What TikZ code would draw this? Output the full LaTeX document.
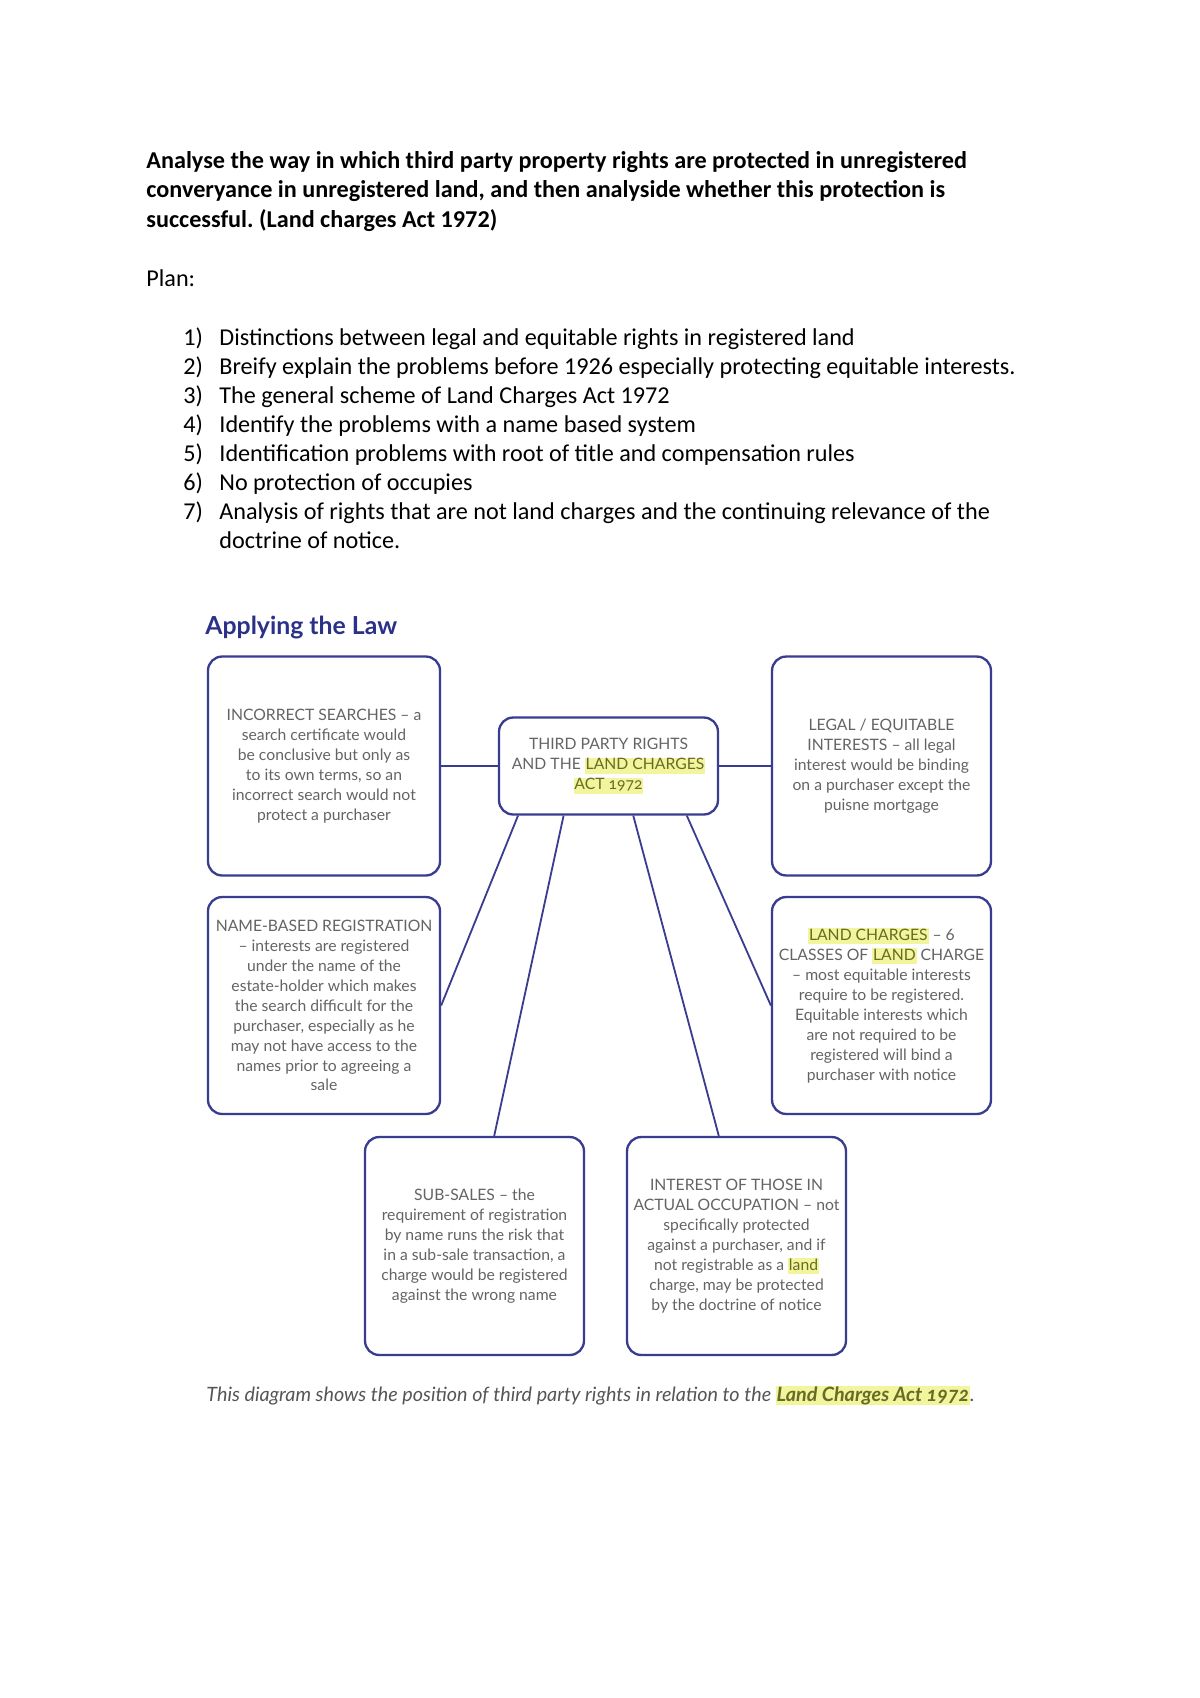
\documentclass[tikz,border=0pt]{standalone}
\usepackage{fontspec}
\setmainfont{Carlito}
\newfontfamily\dgfont{Lato}
\newfontfamily\dgosf{Lato}[Numbers=OldStyle]
\usetikzlibrary{calc}
\frenchspacing
\definecolor{navy}{HTML}{3A3D8F}
\definecolor{ttlblue}{HTML}{2B3187}
\definecolor{boxtxt}{HTML}{646464}
\definecolor{captxt}{HTML}{555555}
\definecolor{hlbg}{HTML}{F3F59C}
\definecolor{hltx}{HTML}{666B26}
\newcommand{\hlt}[1]{{\setlength{\fboxsep}{0.4pt}\colorbox{hlbg}{\color{hltx}\vphantom{Ag}#1}}}
\tikzset{
  doctext/.style={anchor=base west, inner sep=0pt, font=\fontsize{12pt}{14.65pt}\selectfont},
  doctextb/.style={anchor=base west, inner sep=0pt, font=\fontsize{12pt}{14.65pt}\selectfont\bfseries},
  cardbox/.style={draw=navy, line width=1.15pt, rounded corners=7pt, fill=white, align=center,
    text=boxtxt, font=\dgfont\fontsize{7.8pt}{9.9pt}\selectfont, inner sep=0pt},
  conn/.style={draw=navy, line width=0.9pt}
}
\begin{document}
\begin{tikzpicture}[x=0.49606pt, y=-0.49606pt]
\fill[white] (0,0) rectangle (1200,1698);
\useasboundingbox (0,0) rectangle (1200,1698);

% heading text
\node[doctextb] (t1) at (146,168) {Analyse the way in which third party property rights are protected in unregistered};
\node[doctextb] (t2) at (146,197.5) {converyance in unregistered land, and then analyside whether this protection is};
\node[doctextb] (t3) at (146,227) {successful. (Land charges Act 1972)};
\node[doctext] (plan) at (146,286) {Plan:};

\node[doctext] (n1) at (183,345) {1)};
\node[doctext] (i1) at (219,345) {Distinctions between legal and equitable rights in registered land};
\node[doctext] (n2) at (183,374) {2)};
\node[doctext] (i2) at (219,374) {Breify explain the problems before 1926 especially protecting equitable interests.};
\node[doctext] (n3) at (183,403) {3)};
\node[doctext] (i3) at (219,403) {The general scheme of Land Charges Act 1972};
\node[doctext] (n4) at (183,432) {4)};
\node[doctext] (i4) at (219,432) {Identify the problems with a name based system};
\node[doctext] (n5) at (183,461) {5)};
\node[doctext] (i5) at (219,461) {Identification problems with root of title and compensation rules};
\node[doctext] (n6) at (183,490) {6)};
\node[doctext] (i6) at (219,490) {No protection of occupies};
\node[doctext] (n7) at (183,519) {7)};
\node[doctext] (i7) at (219,519) {Analysis of rights that are not land charges and the continuing relevance of the};
\node[doctext] (i7b) at (219,548) {doctrine of notice.};

% diagram title
\node[anchor=base west, inner sep=0pt, text=ttlblue, font=\dgfont\bfseries\fontsize{12.3pt}{14pt}\selectfont] (apply) at (205,634) {Applying the Law};

% boxes
\node[cardbox, minimum width=115.1pt, minimum height=108.6pt] (A) at (324,766)
  {INCORRECT SEARCHES – a\\search certificate would\\be conclusive but only as\\to its own terms, so an\\incorrect search would not\\protect a purchaser};
\node[cardbox, minimum width=108.6pt, minimum height=48.1pt] (ctr) at (608.5,766)
  {THIRD PARTY RIGHTS\\AND THE \hlt{LAND CHARGES}\\\hlt{ACT {\dgosf 1972}}};
\node[cardbox, minimum width=108.6pt, minimum height=108.6pt] (C) at (881.5,766)
  {LEGAL / EQUITABLE\\INTERESTS – all legal\\interest would be binding\\on a purchaser except the\\puisne mortgage};
\node[cardbox, minimum width=115.1pt, minimum height=107.6pt] (D) at (324,1005.5)
  {NAME-BASED REGISTRATION\\– interests are registered\\under the name of the\\estate-holder which makes\\the search difficult for the\\purchaser, especially as he\\may not have access to the\\names prior to agreeing a\\sale};
\node[cardbox, minimum width=108.6pt, minimum height=107.6pt] (E) at (881.5,1005.5)
  {\hlt{LAND CHARGES} – 6\\CLASSES OF \hlt{LAND} CHARGE\\– most equitable interests\\require to be registered.\\Equitable interests which\\are not required to be\\registered will bind a\\purchaser with notice};
\node[cardbox, minimum width=108.6pt, minimum height=108.1pt] (F) at (474.5,1246)
  {SUB-SALES – the\\requirement of registration\\by name runs the risk that\\in a sub-sale transaction, a\\charge would be registered\\against the wrong name};
\node[cardbox, minimum width=108.6pt, minimum height=108.1pt] (G) at (736.5,1246)
  {INTEREST OF THOSE IN\\ACTUAL OCCUPATION – not\\specifically protected\\against a purchaser, and if\\not registrable as a \hlt{land}\\charge, may be protected\\by the doctrine of notice};

% connector end points
\coordinate (s1) at ($(ctr.south west)!0.091!(ctr.south east)$);
\coordinate (s2) at ($(ctr.south west)!0.297!(ctr.south east)$);
\coordinate (s3) at ($(ctr.south west)!0.612!(ctr.south east)$);
\coordinate (s4) at ($(ctr.south west)!0.854!(ctr.south east)$);
\coordinate (fn) at ($(F.north west)!0.589!(F.north east)$);
\coordinate (gn) at ($(G.north west)!0.42!(G.north east)$);

\draw[conn] (A.east) -- (ctr.west);
\draw[conn] (ctr.east) -- (C.west);
\draw[conn] (s1) -- (D.east);
\draw[conn] (s2) -- (fn);
\draw[conn] (s3) -- (gn);
\draw[conn] (s4) -- (E.west);

% caption
\node[anchor=base west, inner sep=0pt, text=captxt, font=\dgfont\itshape\fontsize{9.8pt}{12pt}\selectfont] (cap) at (206,1401)
  {This diagram shows the position of third party rights in relation to the \hlt{\bfseries Land Charges Act {\dgosf 1972}}.};
\end{tikzpicture}
\end{document}
